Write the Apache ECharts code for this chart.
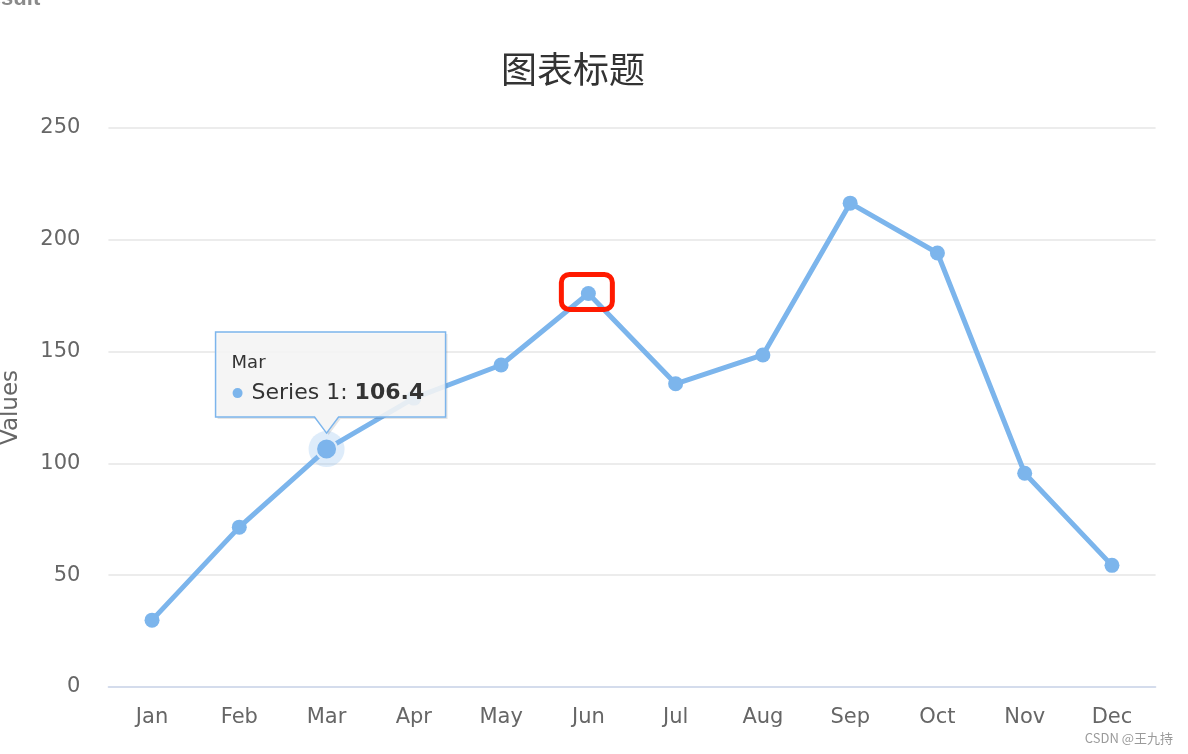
<!DOCTYPE html>
<html><head><meta charset="utf-8">
<script src="https://cdn.jsdelivr.net/npm/echarts@6/dist/echarts.min.js"></script>
<style>html,body{margin:0;padding:0;background:#fff}#c{width:1188px;height:754px}</style>
</head><body><div id="c"></div>
<script>
var categories = ['Jan','Feb','Mar','Apr','May','Jun','Jul','Aug','Sep','Oct','Nov','Dec'];
var values = [29.9, 71.5, 106.4, 129.2, 144.0, 176.0, 135.6, 148.5, 216.4, 194.1, 95.6, 54.4];
var yTicks = [0, 50, 100, 150, 200, 250];
var seriesName = 'Series 1';
var hoverIndex = 2;
var markedIndex = 5;

var FONT = '"DejaVu Sans", "Noto Sans", sans-serif';
var COLOR = '#7cb5ec';
var chart = echarts.init(document.getElementById('c'));

var seriesData = values.map(function (v, i) {
  if (i === hoverIndex) {
    return { value: v, symbolSize: 21, itemStyle: { borderColor: '#fff', borderWidth: 2 } };
  }
  return v;
});

chart.setOption({
  animation: false,
  title: {
    text: '图表标题', left: 568, top: 46, textAlign: 'center',
    textStyle: { fontFamily: '"Noto Sans CJK SC", sans-serif', fontSize: 36, fontWeight: 'normal', color: '#333' }
  },
  grid: { left: 108.4, right: 32.4, top: 128, bottom: 67, outerBoundsMode: 'none', containLabel: false },
  xAxis: {
    type: 'category', data: categories, boundaryGap: true,
    axisLine: { lineStyle: { color: '#ccd6eb', width: 1.5 } },
    axisTick: { show: false },
    axisLabel: { fontFamily: FONT, fontSize: 21, color: '#666', margin: 20 },
    splitLine: { show: false }
  },
  yAxis: {
    type: 'value', min: yTicks[0], max: yTicks[yTicks.length - 1], interval: 50,
    name: 'Values', nameLocation: 'middle', nameGap: 86, nameRotate: 90,
    nameTextStyle: { fontFamily: FONT, fontSize: 23, color: '#666' },
    axisLine: { show: false }, axisTick: { show: false },
    axisLabel: { fontFamily: FONT, fontSize: 21, color: '#666', margin: 28 },
    splitLine: { lineStyle: { color: '#e6e6e6', width: 1.5 } }
  },
  series: [{
    name: seriesName, type: 'line', data: seriesData,
    symbol: 'circle', symbolSize: 15, showAllSymbol: true,
    lineStyle: { color: COLOR, width: 5 },
    itemStyle: { color: COLOR },
    z: 3,
    markPoint: {
      symbol: 'circle', symbolSize: 36, silent: true,
      itemStyle: { color: 'rgba(124,181,236,0.25)' },
      label: { show: false },
      data: [{ coord: [categories[hoverIndex], values[hoverIndex]] }]
    }
  }]
});

var hp = chart.convertToPixel({ xAxisIndex: 0, yAxisIndex: 0 }, [hoverIndex, values[hoverIndex]]);
var mp = chart.convertToPixel({ xAxisIndex: 0, yAxisIndex: 0 }, [markedIndex, values[markedIndex]]);

var bx = hp[0] - 111, by = hp[1] - 117, bw = 230, bh = 85;
chart.setOption({
  graphic: [
    {
      type: 'text', left: -27, top: -12, z: 10,
      style: { text: 'Result', fontFamily: '"Liberation Sans", sans-serif', fontSize: 22, fontWeight: 'bold', fill: '#8a8a8a' }
    },
    {
      type: 'polygon', z: 50,
      shape: { points: [[bx + 2, by + 2], [bx + bw + 2, by + 2], [bx + bw + 2, by + bh + 2], [hp[0] + 14, by + bh + 2], [hp[0] + 2, hp[1] - 14], [hp[0] - 10, by + bh + 2], [bx + 2, by + bh + 2]] },
      style: { fill: 'rgba(0,0,0,0.1)' }
    },
    {
      type: 'polygon', z: 51,
      shape: { points: [[bx, by], [bx + bw, by], [bx + bw, by + bh], [hp[0] + 12, by + bh], [hp[0], hp[1] - 16], [hp[0] - 12, by + bh], [bx, by + bh]] },
      style: { fill: 'rgba(247,247,247,0.88)', stroke: COLOR, lineWidth: 1.5 }
    },
    {
      type: 'text', x: bx + 16, y: by + 31, z: 52,
      style: { text: categories[hoverIndex], fontFamily: FONT, fontSize: 18, fill: '#333', textVerticalAlign: 'middle' }
    },
    {
      type: 'circle', z: 52, shape: { cx: bx + 22, cy: by + 61, r: 5 }, style: { fill: COLOR }
    },
    {
      type: 'text', x: bx + 36, y: by + 61, z: 52,
      style: {
        text: '{n|' + seriesName + ': }{v|' + values[hoverIndex].toFixed(1) + '}',
        textVerticalAlign: 'middle',
        rich: {
          n: { fontFamily: FONT, fontSize: 22, fill: '#333' },
          v: { fontFamily: FONT, fontSize: 22, fontWeight: 'bold', fill: '#333' }
        }
      }
    },
    {
      type: 'rect', z: 50,
      shape: { x: mp[0] - 27, y: mp[1] - 19, width: 51, height: 35, r: 8 },
      style: { fill: 'none', stroke: '#ff1a00', lineWidth: 5 }
    },
    {
      type: 'text', right: 15, bottom: 9, z: 50,
      style: { text: 'CSDN @王九持', fontFamily: '"Noto Sans CJK SC", sans-serif', fontSize: 13, fill: '#9a9a9a' }
    }
  ]
});
</script>
</body></html>
